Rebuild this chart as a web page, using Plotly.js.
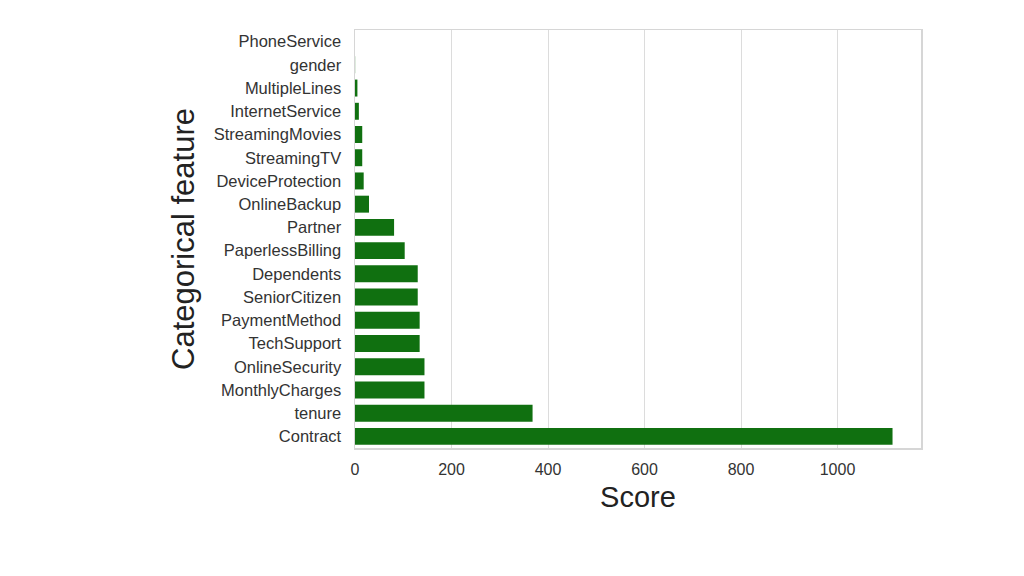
<!DOCTYPE html>
<html>
<head>
<meta charset="utf-8">
<script src="https://cdn.plot.ly/plotly-3.0.1.min.js"></script>
<style>
  html, body { margin: 0; padding: 0; background: #fff; }
  #chart { width: 1024px; height: 576px; }
</style>
</head>
<body>
<div id="chart"></div>
<script>
// features listed top to bottom, as in the picture
var features = ['PhoneService', 'gender', 'MultipleLines', 'InternetService',
    'StreamingMovies', 'StreamingTV', 'DeviceProtection', 'OnlineBackup',
    'Partner', 'PaperlessBilling', 'Dependents', 'SeniorCitizen',
    'PaymentMethod', 'TechSupport', 'OnlineSecurity', 'MonthlyCharges',
    'tenure', 'Contract'];
var scores = [0, 0.3, 5, 8, 15, 15, 18, 29,
    81, 103, 130, 130,
    134, 134, 144, 144,
    368, 1114];
var xTicks = [0, 200, 400, 600, 800, 1000];

var trace = {
    type: 'bar',
    orientation: 'h',
    y: features,
    x: scores,
    marker: {
        color: '#107010',
        line: { width: 0 }
    },
    hoverinfo: 'skip'
};

var gray = '#333333';
var layout = {
    width: 1024,
    height: 576,
    margin: { l: 355, r: 103, t: 30, b: 128 },
    paper_bgcolor: '#ffffff',
    plot_bgcolor: '#ffffff',
    font: { family: 'Liberation Sans, Arial, sans-serif', color: gray },
    bargap: 0.27,
    showlegend: false,
    xaxis: {
        range: [0, 1173],
        tickvals: xTicks,
        ticktext: xTicks.map(String),
        showgrid: true,
        gridcolor: '#dcdcdc',
        gridwidth: 1,
        zeroline: false,
        showline: true,
        mirror: true,
        linecolor: '#d6d6d6',
        linewidth: 1.5,
        ticks: 'outside',
        ticklen: 6,
        tickcolor: 'rgba(0,0,0,0)',
        tickfont: { size: 16, color: gray },
        title: { text: 'Score', font: { size: 29, color: '#222' }, standoff: 10 },
        automargin: false
    },
    yaxis: {
        type: 'category',
        autorange: 'reversed',
        showgrid: false,
        zeroline: false,
        showline: true,
        mirror: true,
        linecolor: '#d6d6d6',
        linewidth: 1.5,
        ticks: 'outside',
        ticklen: 9,
        tickcolor: 'rgba(0,0,0,0)',
        tickfont: { size: 16.5, color: gray },
        title: { text: 'Categorical feature', font: { size: 31, color: '#222' }, standoff: 10 },
        automargin: false
    }
};

Plotly.newPlot('chart', [trace], layout, { staticPlot: true });
</script>
</body>
</html>
